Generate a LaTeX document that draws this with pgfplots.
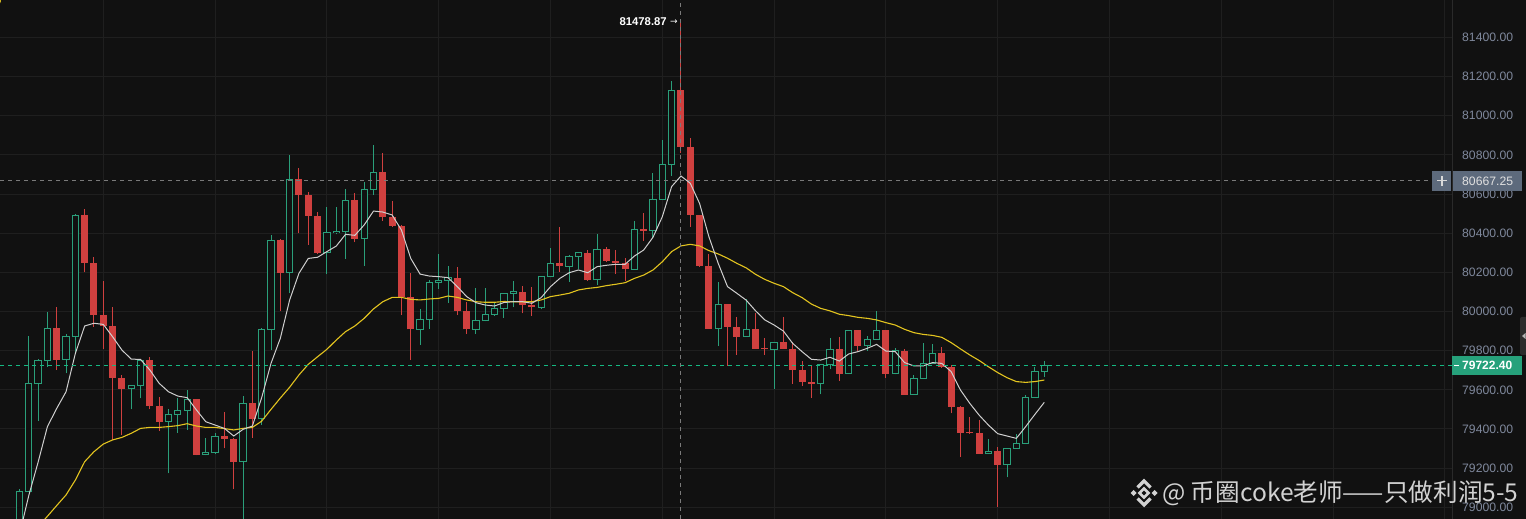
\documentclass[border=0pt]{standalone}
\usepackage{fontspec}
\setmainfont{Liberation Sans}
\newfontfamily\cjk{Noto Sans CJK SC}
\newfontfamily\dejavu{DejaVu Sans}
\usepackage{pgfplots}
\usepackage{pgfplotstable}
\pgfplotsset{compat=1.18}
\definecolor{bg}{HTML}{111111}
\definecolor{gridc}{HTML}{1F1F1F}
\definecolor{sepc}{HTML}{2A2A2A}
\definecolor{cred}{HTML}{D0403F}
\definecolor{cgreen}{HTML}{2A9F7A}
\definecolor{mawhite}{HTML}{CFCFCF}
\definecolor{mayellow}{HTML}{E3C41F}
\definecolor{tickc}{HTML}{7F889C}
\definecolor{pgrey}{HTML}{5D6A7C}
\definecolor{pgreen}{HTML}{26A17B}
\definecolor{linegreen}{RGB}{20,185,130}
\definecolor{dashgrey}{HTML}{7A7A7A}
\definecolor{wm}{HTML}{D2D2D2}

\pgfplotstableread{
i o h l c
4 79914 80025 79701 79754
7 80491 80522 80200 80249
8 80249 80280 79922 79984
9 79984 80157 79807 79928
10 79928 80021 79344 79662
11 79662 79676 79369 79606
14 79751 79768 79500 79519
15 79519 79565 79391 79437
19 79551 79555 79265 79269
22 79364 79488 79301 79350
23 79350 79355 79092 79233
25 79531 79800 79356 79452
28 80363 80368 80002 80198
30 80675 80731 80399 80597
31 80597 80610 80340 80489
32 80489 80508 80295 80300
36 80568 80603 80353 80372
39 80711 80808 80464 80481
40 80481 80566 80433 80438
41 80438 80440 79982 80076
42 80076 80195 79752 79909
47 80173 80229 79982 80003
48 80003 80050 79885 79909
54 80100 80132 79991 80031
55 80031 80127 79979 80021
58 80246 80433 80203 80232
61 80300 80314 80155 80161
63 80317 80328 80255 80258
64 80258 80314 80192 80246
65 80246 80271 80156 80215
67 80420 80501 80362 80413
71 81131 81479 80811 80842
72 80842 80884 80433 80493
73 80493 80495 80229 80232
74 80232 80294 79912 79912
76 80038 80040 79723 79922
77 79922 79974 79778 79871
79 79909 79994 79808 79810
80 79810 79866 79778 79807
82 79842 79970 79810 79810
83 79810 79842 79630 79701
84 79701 79746 79620 79642
85 79642 79722 79560 79630
88 79807 79871 79647 79682
90 79905 79907 79800 79825
93 79905 79907 79662 79682
95 79800 79810 79575 79575
99 79786 79820 79713 79715
100 79715 79727 79480 79514
101 79514 79516 79259 79381
102 79381 79463 79376 79378
103 79378 79446 79272 79274
105 79287 79310 79003 79216
}\redT

\pgfplotstableread{
i o h l c
0 78900 79094 78880 79083
1 79083 79875 79080 79633
2 79633 79755 79442 79751
3 79751 79997 79718 79914
5 79754 79883 79684 79873
6 79873 80498 79786 80491
12 79606 79625 79500 79621
13 79621 79755 79556 79751
16 79437 79500 79173 79475
17 79475 79556 79381 79495
18 79495 79599 79395 79551
20 79269 79356 79265 79279
21 79279 79381 79272 79364
24 79233 79568 78930 79531
26 79452 79915 79420 79909
27 79909 80389 79803 80363
29 80198 80799 80093 80675
33 80300 80535 80190 80404
34 80404 80532 80394 80411
35 80411 80624 80270 80568
37 80372 80663 80232 80624
38 80624 80850 80595 80711
43 79909 80013 79829 79960
44 79960 80161 79911 80149
45 80149 80294 80115 80159
46 80159 80232 80045 80173
49 79909 80118 79885 79953
50 79953 80118 79950 79986
51 79986 80050 79979 80016
52 80016 80093 79969 80093
53 80093 80156 80021 80100
56 80021 80181 80011 80181
57 80181 80323 80178 80246
59 80232 80289 80152 80283
60 80283 80300 80215 80300
62 80161 80394 80135 80317
66 80215 80464 80212 80420
68 80413 80706 80374 80573
69 80573 80876 80570 80753
70 80753 81179 80694 81131
75 79912 80152 79825 80038
78 79871 80062 79870 79909
81 79807 79842 79604 79842
86 79630 79732 79577 79730
87 79730 79863 79705 79807
89 79682 79905 79680 79905
91 79825 79875 79800 79858
92 79858 80001 79856 79905
94 79682 79813 79679 79800
96 79575 79676 79573 79659
97 79659 79839 79657 79734
98 79734 79836 79732 79786
104 79274 79350 79272 79287
106 79216 79301 79153 79301
107 79301 79373 79298 79327
108 79327 79573 79325 79562
109 79562 79718 79560 79696
110 79696 79745 79667 79722.4
}\greenT

\pgfplotstableread{
i v
0 78860
1 79060
2 79230
3 79412
4 79505
5 79590
6 79786
7 79926
8 79940
9 79934
10 79871
11 79803
12 79757
13 79755
14 79701
15 79633
16 79590
17 79568
18 79560
19 79497
20 79437
21 79420
22 79403
23 79364
24 79398
25 79415
26 79560
27 79735
28 79863
29 80059
30 80195
31 80271
32 80277
33 80306
34 80334
35 80394
36 80389
37 80442
38 80513
39 80508
40 80493
41 80416
42 80271
43 80191
44 80181
45 80178
46 80173
47 80127
48 80076
49 80045
50 80033
51 80028
52 80046
53 80050
54 80050
55 80042
56 80071
57 80127
58 80169
59 80198
60 80212
61 80198
62 80229
63 80236
64 80241
65 80241
66 80283
67 80314
68 80379
69 80484
70 80638
71 80692
72 80655
73 80552
74 80382
75 80246
76 80127
77 80093
78 80058
79 80004
80 79957
81 79931
82 79900
83 79837
84 79795
85 79756
86 79752
87 79766
88 79747
89 79783
90 79795
91 79812
92 79832
93 79798
94 79795
95 79739
96 79722
97 79722
98 79739
99 79735
100 79693
101 79599
102 79531
103 79471
104 79420
105 79376
106 79364
107 79352
108 79412
109 79475
110 79536
}\maW

\pgfplotstableread{
i v
2 78900
3 78954
4 79009
5 79063
6 79139
7 79233
8 79284
9 79323
10 79344
11 79357
12 79378
13 79403
14 79408
15 79408
16 79412
17 79417
18 79427
19 79415
20 79408
21 79408
22 79402
23 79395
24 79403
25 79408
26 79440
27 79500
28 79558
29 79613
30 79676
31 79730
32 79769
33 79807
34 79854
35 79897
36 79926
37 79965
38 80013
39 80050
40 80072
41 80072
42 80062
43 80059
44 80064
45 80067
46 80079
47 80072
48 80059
49 80050
50 80047
51 80047
52 80051
53 80050
54 80050
55 80050
56 80059
57 80076
58 80084
59 80093
60 80110
61 80118
62 80123
63 80132
64 80139
65 80147
66 80169
67 80186
68 80212
69 80254
70 80306
71 80335
72 80343
73 80335
74 80311
75 80294
76 80272
77 80246
78 80223
79 80190
80 80164
81 80144
82 80127
83 80096
84 80071
85 80038
86 80016
87 80003
88 79986
89 79979
90 79970
91 79965
92 79957
93 79943
94 79931
95 79909
96 79892
97 79883
98 79878
99 79868
100 79841
101 79809
102 79778
103 79750
104 79718
105 79688
106 79662
107 79642
108 79638
109 79642
110 79650
}\maY

\begin{document}
\begin{tikzpicture}[x=1pt,y=1pt]
\useasboundingbox (0,0) rectangle (1526,519);
\clip (0,0) rectangle (1526,519);
\fill[bg] (0,0) rectangle (1526,519);
\begin{axis}[
  at={(0,0)}, anchor=south west,
  scale only axis, width=1452pt, height=519pt,
  xmin=-2.088, xmax=153.76, ymin=78940.2, ymax=81591,
  axis line style={draw=none},
  xtick={9,21,...,153}, xticklabels={},
  ytick={79000,79200,...,81600},
  grid=major, major grid style={draw=gridc, line width=1pt},
  tick style={draw=none},
  scaled y ticks=false,
  yticklabel pos=right,
  yticklabel style={anchor=west, inner sep=0pt, xshift=10pt, text=tickc,
    font=\fontsize{12.2}{14}\selectfont},
  /pgf/number format/.cd, fixed, fixed zerofill, precision=2, 1000 sep={},
  assume math mode=true,
]
% wicks
\addplot[draw=none, mark=none, forget plot,
  error bars/.cd, y dir=plus, y explicit, error mark=none,
  error bar style={draw=cred, line width=1pt, solid}]
  table[x=i, y=l, y error expr={\thisrow{h}-\thisrow{l}}] {\redT};
\addplot[draw=none, mark=none, forget plot,
  error bars/.cd, y dir=plus, y explicit, error mark=none,
  error bar style={draw=cgreen, line width=1pt, solid}]
  table[x=i, y=l, y error expr={\thisrow{h}-\thisrow{l}}] {\greenT};
% red bodies
\addplot[draw=none, mark=none, forget plot,
  error bars/.cd, y dir=plus, y explicit, error mark=none,
  error bar style={draw=cred, line width=7pt, solid}]
  table[x=i, y=c, y error expr={max(\thisrow{o}-\thisrow{c},5)}] {\redT};
% green hollow bodies
\addplot[draw=none, mark=none, forget plot,
  error bars/.cd, y dir=plus, y explicit, error mark=none,
  error bar style={draw=cgreen, line width=7.3pt, solid}]
  table[x=i, y expr={\thisrow{o}-2.5}, y error expr={\thisrow{c}-\thisrow{o}+5}] {\greenT};
\addplot[draw=none, mark=none, forget plot,
  error bars/.cd, y dir=plus, y explicit, error mark=none,
  error bar style={draw=bg, line width=5.3pt, solid}]
  table[x=i, y expr={\thisrow{o}+2.6}, y error expr={max(\thisrow{c}-\thisrow{o}-5.2,0)}] {\greenT};
% moving averages
\addplot[mayellow, line width=1.1pt, mark=none] table[x=i, y=v] {\maY};
\addplot[mawhite, line width=1pt, mark=none] table[x=i, y=v] {\maW};
% reference lines
\draw[draw=linegreen, line width=1.2pt, dash pattern=on 4pt off 4pt]
  (axis cs:-2.088,79722.4) -- (axis cs:153.76,79722.4);
\draw[draw=dashgrey, line width=0.9pt, dash pattern=on 4pt off 4pt]
  (axis cs:-2.088,80667.25) -- (axis cs:151.6,80667.25);
\draw[draw=dashgrey, line width=0.9pt, dash pattern=on 4pt off 4pt]
  (axis cs:71,78900) -- (axis cs:71,81700);
\coordinate (pA) at (axis cs:153.76,80667.25);
\coordinate (pB) at (axis cs:153.76,79722.4);
\coordinate (pH) at (axis cs:71,81478.87);
\end{axis}
% right separator
\draw[sepc, line width=1pt] (1452,0) -- (1452,519);
% grey price box
\fill[pgrey] ([xshift=-20pt,yshift=-9.8pt]pA) rectangle ([xshift=-0.6pt,yshift=9.8pt]pA);
\draw[white!85!black, line width=1.1pt] ([xshift=-15pt]pA) -- ([xshift=-5pt]pA);
\draw[white!85!black, line width=1.1pt] ([xshift=-10pt,yshift=-5pt]pA) -- ([xshift=-10pt,yshift=5pt]pA);
\fill[pgrey] ([xshift=0.7pt,yshift=-9.8pt]pA) rectangle ([xshift=69.7pt,yshift=9.8pt]pA);
\node[anchor=west, inner sep=0pt, text=white!88!black, font=\fontsize{12.2}{14}\selectfont] at ([xshift=10pt]pA) {80667.25};
% green price box
\fill[pgreen] ([yshift=-9.6pt]pB) rectangle ([xshift=70pt,yshift=9.6pt]pB);
\draw[white, line width=1pt] ([xshift=2pt]pB) -- ([xshift=7pt]pB);
\node[anchor=west, inner sep=0pt, text=white, font=\bfseries\fontsize{12}{14}\selectfont] at ([xshift=10pt]pB) {79722.40};
% high label
\node[anchor=east, inner sep=0pt, text=white, font=\bfseries\fontsize{11.3}{13}\selectfont] at ([xshift=-14pt,yshift=0pt]pH) {81478.87};
\node[anchor=west, inner sep=0pt, text=white, font=\dejavu\fontsize{9}{11}\selectfont] at ([xshift=-11pt]pH) {→};
% side tab
\fill[sepc!80!white!40!bg, rounded corners=2pt] (1520,164) rectangle (1530,202);
\fill[white!70!black] (1522,183) -- (1525.5,186) -- (1525.5,180) -- cycle;
% top-left yellow dot
\fill[mayellow] (-3,518) circle (4);
% watermark logo
\begin{scope}[wm, line width=3.2pt, miter limit=10]
\draw (1137.5,31.5) -- (1144,38) -- (1150.5,31.5);
\draw (1137.5,20.5) -- (1144,14) -- (1150.5,20.5);
\draw[line width=2.6pt] (1144,30.5) -- (1148.5,26) -- (1144,21.5) -- (1139.5,26) -- cycle;
\fill (1130.5,26) -- (1133.5,29) -- (1136.5,26) -- (1133.5,23) -- cycle;
\fill (1151.5,26) -- (1154.5,29) -- (1157.5,26) -- (1154.5,23) -- cycle;
\end{scope}
\node[anchor=west, inner sep=0pt, text=wm] at (1162,26) {\cjk\fontsize{24.6}{28}\selectfont @ 币圈coke老师——只做利润5-5};
\end{tikzpicture}
\end{document}
